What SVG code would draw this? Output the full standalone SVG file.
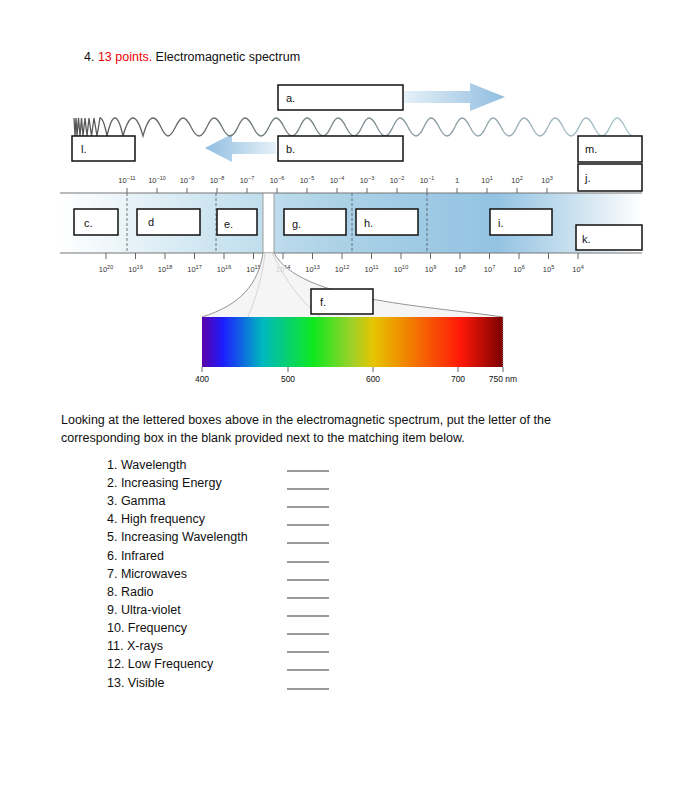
<svg xmlns="http://www.w3.org/2000/svg" width="684" height="798" viewBox="0 0 684 798">
<style>
text{font-family:"Liberation Sans",Arial,sans-serif;fill:#111}
.t{font-size:12.5px}
.lb{font-size:11px}
.s{font-size:7.5px;fill:#333}
.bx{fill:#fff;stroke:#111;stroke-width:1.5}
.tk{stroke:#666;stroke-width:1}
.ds{stroke:#555;stroke-width:0.8;stroke-dasharray:3,2}
.bl{stroke:#000;stroke-width:0.8}
</style>
<defs>
<linearGradient id="band" x1="0" x2="1">
<stop offset="0" stop-color="#fff"/>
<stop offset="0.25" stop-color="#cfe6f1"/>
<stop offset="0.5" stop-color="#a9d0e6"/>
<stop offset="0.75" stop-color="#93c3e2"/>
<stop offset="0.88" stop-color="#c9e0ef"/>
<stop offset="1" stop-color="#fff"/>
</linearGradient>
<linearGradient id="wave" x1="0" x2="1">
<stop offset="0" stop-color="#555"/>
<stop offset="1" stop-color="#a8c4cc"/>
</linearGradient>
<linearGradient id="ar" x1="0" x2="1">
<stop offset="0" stop-color="#e6f1f8"/>
<stop offset="1" stop-color="#8fbde0"/>
</linearGradient>
<linearGradient id="br" x1="1" x2="0">
<stop offset="0" stop-color="#e6f1f8"/>
<stop offset="1" stop-color="#8fbde0"/>
</linearGradient>
<linearGradient id="vis" x1="0" x2="1">
<stop offset="0" stop-color="#5a00a8"/>
<stop offset="0.07" stop-color="#1d1dff"/>
<stop offset="0.2" stop-color="#00b8c0"/>
<stop offset="0.37" stop-color="#10e820"/>
<stop offset="0.5" stop-color="#a0d028"/>
<stop offset="0.57" stop-color="#e6c400"/>
<stop offset="0.67" stop-color="#f08a00"/>
<stop offset="0.86" stop-color="#ff1808"/>
<stop offset="1" stop-color="#7a0000"/>
</linearGradient>
</defs>
<text x="84" y="61" class="t">4.   <tspan fill="#e00">13 points.</tspan> Electromagnetic spectrum</text>

<g id="arrows">
<path d="M404,91 H470 V83 L505,97 L470,111 V103 H404 Z" fill="url(#ar)"/>
<path d="M276,142 H232 V134 L205,148 L232,162 V154 H276 Z" fill="url(#br)"/>
</g>
<path id="wavepath" fill="none" stroke="url(#wave)" stroke-width="1.3" d="M74,118 L75,136 L76,118 L77,136 L78.5,118 L80,136 L81.5,118 L83,136 L85,118 L87,136 L89,118 L91.5,136 L94,118 L97,136 L100,118 Q103.5,118 107,136 Q111,118 115,118 Q119,118 123,136 Q128,118 133,118 Q138,118 143,136 Q148,118 153,118 C160,118 162,136 168,136 C174,136 177,118 183,118 C190,118 192,136 199,136 C206,136 208,118 214,118 C221,118 223,136 230,136 C237,136 239,118 245,118 C252,118 254,136 261,136 C268,136 270,118 276,118 C283,118 285,136 292,136 C299,136 301,118 307,118 C314,118 316,136 323,136 C330,136 332,118 338,118 C345,118 347,136 354,136 C361,136 363,118 369,118 C376,118 378,136 385,136 C392,136 394,118 400,118 C407,118 409,136 416,136 C423,136 425,118 431,118 C438,118 440,136 447,136 C454,136 456,118 462,118 C469,118 471,136 478,136 C485,136 487,118 493,118 C500,118 502,136 509,136 C516,136 518,118 524,118 C531,118 533,136 540,136 C547,136 549,118 555,118 C562,118 564,136 571,136 C578,136 580,118 586,118 C593,118 595,136 602,136 C609,136 611,118 617,118 C624,118 626,136 633,136"/>

<g id="band">
<rect x="60" y="193" width="582" height="60" fill="url(#band)"/>
<rect x="263" y="193" width="11" height="60" fill="#fff"/>
<line x1="60" y1="193" x2="642" y2="193" stroke="#777" stroke-width="1.2"/>
<line x1="60" y1="253" x2="642" y2="253" stroke="#777" stroke-width="1.2"/>
<line x1="127" y1="193" x2="127" y2="253" class="ds"/>
<line x1="216" y1="193" x2="216" y2="253" class="ds"/>
<line x1="352" y1="193" x2="352" y2="253" class="ds"/>
<line x1="427" y1="193" x2="427" y2="253" class="ds"/>
<line x1="263" y1="193" x2="263" y2="253" stroke="#888" stroke-width="0.8"/>
<line x1="274" y1="193" x2="274" y2="253" stroke="#888" stroke-width="0.8"/>
</g>

<g id="scale-top" text-anchor="middle">
<g class="tk">
<line x1="127" y1="188" x2="127" y2="193"/><line x1="157" y1="188" x2="157" y2="193"/><line x1="187" y1="188" x2="187" y2="193"/><line x1="217" y1="188" x2="217" y2="193"/><line x1="247" y1="188" x2="247" y2="193"/><line x1="277" y1="188" x2="277" y2="193"/><line x1="307" y1="188" x2="307" y2="193"/><line x1="337" y1="188" x2="337" y2="193"/><line x1="367" y1="188" x2="367" y2="193"/><line x1="397" y1="188" x2="397" y2="193"/><line x1="427" y1="188" x2="427" y2="193"/><line x1="457" y1="188" x2="457" y2="193"/><line x1="487" y1="188" x2="487" y2="193"/><line x1="517" y1="188" x2="517" y2="193"/><line x1="547" y1="188" x2="547" y2="193"/>
</g>
<text class="s" x="127" y="183">10<tspan dy="-3" font-size="5.5">−11</tspan></text>
<text class="s" x="157" y="183">10<tspan dy="-3" font-size="5.5">−10</tspan></text>
<text class="s" x="187" y="183">10<tspan dy="-3" font-size="5.5">−9</tspan></text>
<text class="s" x="217" y="183">10<tspan dy="-3" font-size="5.5">−8</tspan></text>
<text class="s" x="247" y="183">10<tspan dy="-3" font-size="5.5">−7</tspan></text>
<text class="s" x="277" y="183">10<tspan dy="-3" font-size="5.5">−6</tspan></text>
<text class="s" x="307" y="183">10<tspan dy="-3" font-size="5.5">−5</tspan></text>
<text class="s" x="337" y="183">10<tspan dy="-3" font-size="5.5">−4</tspan></text>
<text class="s" x="367" y="183">10<tspan dy="-3" font-size="5.5">−3</tspan></text>
<text class="s" x="397" y="183">10<tspan dy="-3" font-size="5.5">−2</tspan></text>
<text class="s" x="427" y="183">10<tspan dy="-3" font-size="5.5">−1</tspan></text>
<text class="s" x="457" y="183">1</text>
<text class="s" x="487" y="183">10<tspan dy="-3" font-size="5.5">1</tspan></text>
<text class="s" x="517" y="183">10<tspan dy="-3" font-size="5.5">2</tspan></text>
<text class="s" x="547" y="183">10<tspan dy="-3" font-size="5.5">3</tspan></text>
</g>

<g id="scale-bottom" text-anchor="middle">
<g class="tk">
<line x1="106" y1="253" x2="106" y2="259"/><line x1="135.5" y1="253" x2="135.5" y2="259"/><line x1="165" y1="253" x2="165" y2="259"/><line x1="194.5" y1="253" x2="194.5" y2="259"/><line x1="224" y1="253" x2="224" y2="259"/><line x1="253.5" y1="253" x2="253.5" y2="259"/><line x1="283" y1="253" x2="283" y2="259"/><line x1="312.5" y1="253" x2="312.5" y2="259"/><line x1="342" y1="253" x2="342" y2="259"/><line x1="371.5" y1="253" x2="371.5" y2="259"/><line x1="401" y1="253" x2="401" y2="259"/><line x1="430.5" y1="253" x2="430.5" y2="259"/><line x1="460" y1="253" x2="460" y2="259"/><line x1="489.5" y1="253" x2="489.5" y2="259"/><line x1="519" y1="253" x2="519" y2="259"/><line x1="548.5" y1="253" x2="548.5" y2="259"/><line x1="578" y1="253" x2="578" y2="259"/>
</g>
<text class="s" x="106" y="272">10<tspan dy="-3" font-size="5.5">20</tspan></text>
<text class="s" x="135.5" y="272">10<tspan dy="-3" font-size="5.5">19</tspan></text>
<text class="s" x="165" y="272">10<tspan dy="-3" font-size="5.5">18</tspan></text>
<text class="s" x="194.5" y="272">10<tspan dy="-3" font-size="5.5">17</tspan></text>
<text class="s" x="224" y="272">10<tspan dy="-3" font-size="5.5">16</tspan></text>
<text class="s" x="253.5" y="272">10<tspan dy="-3" font-size="5.5">15</tspan></text>
<text class="s" x="283" y="272">10<tspan dy="-3" font-size="5.5">14</tspan></text>
<text class="s" x="312.5" y="272">10<tspan dy="-3" font-size="5.5">13</tspan></text>
<text class="s" x="342" y="272">10<tspan dy="-3" font-size="5.5">12</tspan></text>
<text class="s" x="371.5" y="272">10<tspan dy="-3" font-size="5.5">11</tspan></text>
<text class="s" x="401" y="272">10<tspan dy="-3" font-size="5.5">10</tspan></text>
<text class="s" x="430.5" y="272">10<tspan dy="-3" font-size="5.5">9</tspan></text>
<text class="s" x="460" y="272">10<tspan dy="-3" font-size="5.5">8</tspan></text>
<text class="s" x="489.5" y="272">10<tspan dy="-3" font-size="5.5">7</tspan></text>
<text class="s" x="519" y="272">10<tspan dy="-3" font-size="5.5">6</tspan></text>
<text class="s" x="548.5" y="272">10<tspan dy="-3" font-size="5.5">5</tspan></text>
<text class="s" x="578" y="272">10<tspan dy="-3" font-size="5.5">4</tspan></text>
</g>

<g id="funnel">
<path d="M263,253 C258,285 240,305 202,317 L503,317 C420,305 300,300 274,253 Z" fill="#f3f3f3" opacity="0.8"/>
<path d="M263,253 C258,285 240,305 202,317" fill="none" stroke="#888" stroke-width="0.9"/>
<path d="M274,253 C300,300 420,305 503,317" fill="none" stroke="#888" stroke-width="0.9"/>
<path d="M265,253 C262,280 255,300 248,317" fill="none" stroke="#ccc" stroke-width="0.8"/>
<path d="M272,253 C285,280 300,300 320,317" fill="none" stroke="#ccc" stroke-width="0.8"/>
</g>

<g id="visible">
<rect x="202" y="317" width="301" height="50" fill="url(#vis)"/>
<line x1="503" y1="317" x2="503" y2="367" stroke="#aaa" stroke-dasharray="1,1"/>
<g class="tk"><line x1="202" y1="367" x2="202" y2="372"/><line x1="288" y1="367" x2="288" y2="372"/><line x1="373" y1="367" x2="373" y2="372"/><line x1="458" y1="367" x2="458" y2="372"/><line x1="503" y1="367" x2="503" y2="372"/></g>
<g font-size="8.5" text-anchor="middle">
<text x="202" y="382" font-size="8.5">400</text>
<text x="288" y="382" font-size="8.5">500</text>
<text x="373" y="382" font-size="8.5">600</text>
<text x="458" y="382" font-size="8.5">700</text>
<text x="503" y="382" font-size="8.5">750 nm</text>
</g>
</g>

<g id="box-a"><rect class="bx" x="278" y="85" width="125" height="25"/><text class="lb" x="286" y="102">a.</text></g>
<g id="box-b"><rect class="bx" x="278" y="136" width="125" height="25"/><text class="lb" x="286" y="153">b.</text></g>
<g id="box-l"><rect class="bx" x="72" y="136" width="63" height="25"/><text class="lb" x="81" y="153">l.</text></g>
<g id="box-m"><rect class="bx" x="578" y="136" width="64" height="26"/><text class="lb" x="585" y="153">m.</text></g>
<g id="box-j"><rect class="bx" x="578" y="164" width="64" height="27"/><text class="lb" x="585" y="182">j.</text></g>
<g id="box-c"><rect class="bx" x="74" y="209" width="44" height="26"/><text class="lb" x="84" y="227">c.</text></g>
<g id="box-d"><rect class="bx" x="137" y="209" width="63" height="26"/><text class="lb" x="148" y="226">d</text></g>
<g id="box-e"><rect class="bx" x="217" y="209" width="40" height="26"/><text class="lb" x="224" y="228">e.</text></g>
<g id="box-g"><rect class="bx" x="284" y="209" width="62" height="26"/><text class="lb" x="292" y="228">g.</text></g>
<g id="box-h"><rect class="bx" x="356" y="209" width="62" height="26"/><text class="lb" x="364" y="227">h.</text></g>
<g id="box-i"><rect class="bx" x="490" y="209" width="62" height="26"/><text class="lb" x="498" y="227">i.</text></g>
<g id="box-k"><rect class="bx" x="576" y="225" width="66" height="25"/><text class="lb" x="582" y="243">k.</text></g>
<g id="box-f"><rect class="bx" x="311" y="289" width="62" height="25"/><text class="lb" x="320" y="306">f.</text></g>

<text class="t" x="61" y="424">Looking at the lettered boxes above in the electromagnetic spectrum, put the letter of the</text>
<text class="t" x="61" y="442">corresponding box in the blank provided next to the matching item below.</text>

<g id="list" class="t">
<text x="107" y="469">1.  Wavelength</text>
<text x="107" y="487">2.  Increasing Energy</text>
<text x="107" y="505">3.  Gamma</text>
<text x="107" y="523">4.  High frequency</text>
<text x="107" y="541">5.  Increasing Wavelength</text>
<text x="107" y="560">6.  Infrared</text>
<text x="107" y="578">7.  Microwaves</text>
<text x="107" y="596">8.  Radio</text>
<text x="107" y="614">9.  Ultra-violet</text>
<text x="107" y="632">10. Frequency</text>
<text x="107" y="650">11. X-rays</text>
<text x="107" y="668">12. Low Frequency</text>
<text x="107" y="687">13. Visible</text>
</g>
<g id="blanks" class="bl">
<line x1="287" y1="471" x2="329" y2="471"/><line x1="287" y1="489" x2="329" y2="489"/><line x1="287" y1="507" x2="329" y2="507"/><line x1="287" y1="525" x2="329" y2="525"/><line x1="287" y1="543" x2="329" y2="543"/><line x1="287" y1="562" x2="329" y2="562"/><line x1="287" y1="580" x2="329" y2="580"/><line x1="287" y1="598" x2="329" y2="598"/><line x1="287" y1="616" x2="329" y2="616"/><line x1="287" y1="634" x2="329" y2="634"/><line x1="287" y1="652" x2="329" y2="652"/><line x1="287" y1="670" x2="329" y2="670"/><line x1="287" y1="689" x2="329" y2="689"/>
</g>
</svg>
